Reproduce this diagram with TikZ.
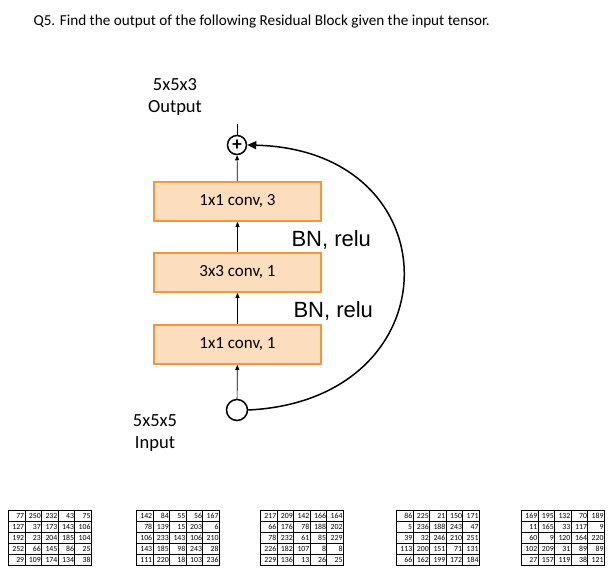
\documentclass[tikz,border=0pt]{standalone}
\usepackage{fontspec}
\setmainfont{Carlito}
\newfontfamily\arialf{Liberation Sans}
\usetikzlibrary{arrows.meta}
\definecolor{boxfill}{RGB}{252,222,190}
\definecolor{boxline}{RGB}{246,150,60}
\begin{document}
\begin{tikzpicture}[x=1pt,y=-1pt,
  convbox/.style={draw=boxline,line width=1.8pt,fill=boxfill,minimum width=167pt,minimum height=39pt,font=\fontsize{17}{20}\selectfont},
  lbl/.style={font=\fontsize{18.5}{22}\selectfont,align=center},
  arr/.style={-{Triangle[length=5pt,width=4pt]},line width=0.7pt},
  cell/.style={draw,line width=0.8pt,minimum width=16.6pt,minimum height=11pt,inner sep=0pt,font=\fontsize{7.8}{8}\selectfont,anchor=north west,align=right,text width=15pt}]
\useasboundingbox (0,0) rectangle (614,584);
\node[anchor=west,font=\fontsize{15.2}{17}\selectfont] (title) at (30,22) {Q5. Find the output of the following Residual Block given the input tensor.};
\node[lbl] (out) at (175,97) {5x5x3\\Output};
\node[draw,circle,line width=1.5pt,minimum size=19pt,inner sep=0pt,font=\bfseries\fontsize{19}{19}\selectfont] (plus) at (237,145) {+};
\coordinate (top) at (237,124);
\draw[line width=0.7pt] (plus) -- (top);
\node[convbox] (b1) at (237.5,201.5) {1x1 conv, 3};
\node[convbox] (b2) at (237.5,272.5) {3x3 conv, 1};
\node[convbox] (b3) at (237.5,344.5) {1x1 conv, 1};
\node[draw,circle,line width=1.5pt,minimum size=21pt,inner sep=0pt] (in) at (237,410) {};
\draw[arr] (b1) -- (plus);
\draw[arr] (b2) -- (b1);
\draw[arr] (b3) -- (b2);
\draw[arr] (in) -- (b3);
\draw[line width=1.5pt,-{Triangle[length=9pt,width=8pt]}] (in.east) .. controls (455,400) and (455,150) .. (plus.east);
\node[anchor=west,font=\arialf\fontsize{22}{25}\selectfont] (bn1) at (288,240) {BN, relu};
\node[anchor=west,font=\arialf\fontsize{22}{25}\selectfont] (bn2) at (290,311) {BN, relu};
\node[lbl] (inl) at (155,433) {5x5x5\\Input};
\foreach \mx/\vals in {8/{77,250,232,43,75,127,37,173,143,106,192,23,204,185,104,252,66,145,86,25,29,109,174,134,38},
  136/{142,84,55,56,167,78,139,15,203,6,106,233,143,106,210,143,185,98,243,28,111,220,18,103,236},
  260/{217,209,142,166,164,66,176,78,188,202,78,232,61,85,229,226,182,107,8,8,229,136,13,26,25},
  396/{86,225,21,150,171,5,236,188,243,47,39,32,246,210,251,113,200,151,71,131,66,162,199,172,184},
  521/{169,195,132,70,189,11,165,33,117,9,60,9,120,164,220,102,209,31,89,89,27,157,119,38,121}}{
  \foreach \v [count=\i from 0] in \vals {
    \pgfmathtruncatemacro\r{int(\i/5)}
    \pgfmathtruncatemacro\c{mod(\i,5)}
    \node[cell] (m\mx-\i) at (\mx+\c*16.6,510+\r*11) {\v};
  }
}
\end{tikzpicture}
\end{document}
